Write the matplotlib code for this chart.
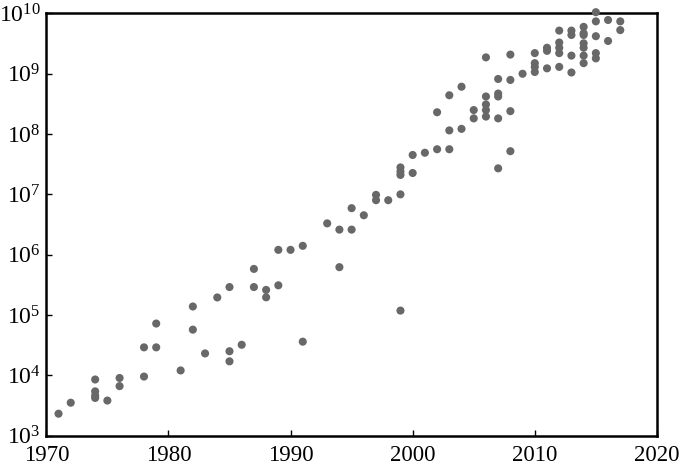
import matplotlib
matplotlib.use("Agg")
import matplotlib.pyplot as plt
import numpy as np

years = [1971, 1972, 1974, 1974, 1974, 1974, 1975, 1976, 1976, 1978, 1978,
         1979, 1979, 1981, 1982, 1982, 1983, 1984, 1985, 1985, 1985, 1986,
         1987, 1987, 1988, 1988, 1989, 1989, 1990, 1991, 1991, 1993, 1994,
         1994, 1995, 1995, 1996, 1997, 1997, 1998, 1999, 1999, 1999, 1999,
         1999, 2000, 2000, 2001, 2002, 2002, 2003, 2003, 2003, 2004, 2004,
         2005, 2005, 2006, 2006, 2006, 2006, 2006, 2007, 2007, 2007, 2007,
         2007, 2008, 2008, 2008, 2008, 2009, 2010, 2010, 2010, 2010, 2011,
         2011, 2011, 2012, 2012, 2012, 2012, 2012, 2013, 2013, 2013, 2013,
         2014, 2014, 2014, 2014, 2014, 2014, 2014, 2015, 2015, 2015, 2015,
         2015, 2016, 2016, 2017, 2017]

transistors = [2300, 3500, 8500, 5400, 4600, 4200, 3800, 9000, 6600, 9500, 29000,
               29000, 72000, 12000, 57000, 138000, 23000, 195000, 290000, 25000, 17000, 32000,
               290000, 580000, 260000, 196000, 310000, 1.2e6, 1.2e6, 1.4e6, 36000, 3.3e6, 2.6e6,
               6.2e5, 2.6e6, 5.9e6, 4.5e6, 9.8e6, 8.0e6, 8.0e6, 1.0e7, 2.1e7, 2.4e7, 2.8e7,
               1.18e5, 2.26e7, 4.5e7, 4.9e7, 5.6e7, 2.3e8, 5.6e7, 1.15e8, 4.4e8, 1.22e8, 6.1e8,
               2.5e8, 1.82e8, 4.2e8, 3.1e8, 2.5e8, 1.95e8, 1.87e9, 1.82e8, 4.7e8, 4.2e8, 8.2e8,
               2.7e7, 7.9e8, 2.08e9, 2.4e8, 5.2e7, 1.0e9, 2.2e9, 1.5e9, 1.3e9, 1.07e9, 2.7e9,
               2.4e9, 1.23e9, 3.3e9, 2.7e9, 2.2e9, 1.3e9, 5.2e9, 5.2e9, 4.4e9, 2.0e9, 1.05e9,
               6.0e9, 4.7e9, 4.4e9, 3.2e9, 2.7e9, 2.0e9, 1.5e9, 1.05e10, 7.4e9, 4.2e9, 2.2e9,
               1.8e9, 7.8e9, 3.5e9, 7.4e9, 5.3e9]

x_ticks = [1970, 1980, 1990, 2000, 2010, 2020]
y_exponents = [3, 4, 5, 6, 7, 8, 9, 10]

plt.rcParams['font.family'] = ['Liberation Serif', 'DejaVu Serif']
plt.rcParams['mathtext.fontset'] = 'custom'
plt.rcParams['mathtext.rm'] = 'Liberation Serif'
plt.rcParams['mathtext.it'] = 'Liberation Serif:italic'

fig = plt.figure(figsize=(6.85, 4.68), dpi=100)
ax = fig.add_axes([0.0676, 0.0694, 0.8914, 0.9018])

ax.scatter(years, transistors, s=34, color='#686868', edgecolors='none',
           clip_on=False, zorder=3)

ax.set_yscale('log')
ax.set_xlim(1970, 2020)
ax.set_ylim(1e3, 1e10)
ax.set_xticks(x_ticks)
ax.set_xticklabels([str(t) for t in x_ticks], fontsize=16.5)
ax.set_yticks([10.0 ** e for e in y_exponents])
ax.set_yticklabels([r'$10^{%d}$' % e for e in y_exponents], fontsize=17)
ax.minorticks_off()
ax.tick_params(direction='in', length=4, width=1, top=False, right=False)
ax.tick_params(axis='x', pad=7)
ax.tick_params(axis='y', pad=4)
for sp in ax.spines.values():
    sp.set_linewidth(1.8)

fig.savefig('out.png', dpi=100)
